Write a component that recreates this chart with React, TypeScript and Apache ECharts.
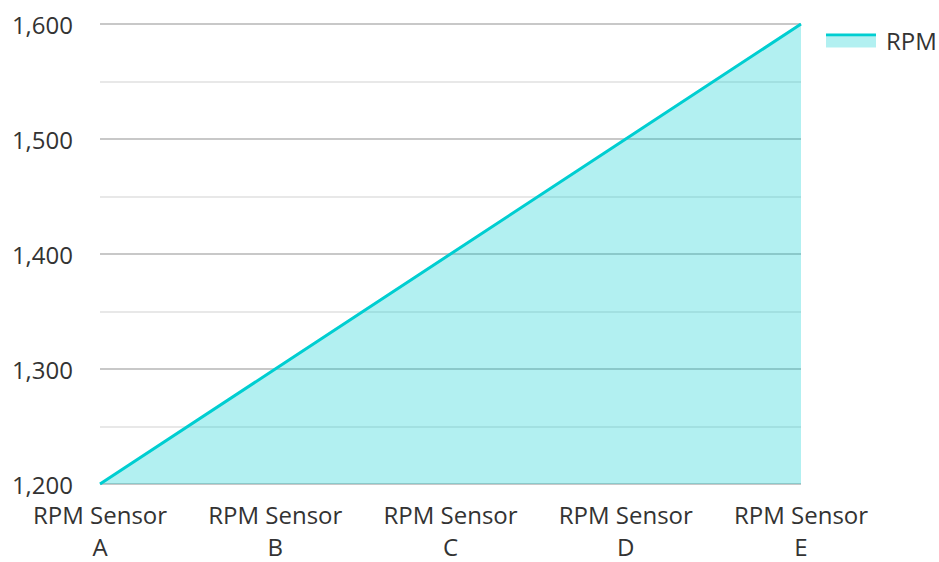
import React, { useEffect, useRef } from "react";
import * as echarts from "echarts";

const categories = ["RPM Sensor A", "RPM Sensor B", "RPM Sensor C", "RPM Sensor D", "RPM Sensor E"];
const rpmValues = [1200, 1300, 1400, 1500, 1600];
const seriesName = "RPM";

export default function App() {
  const ref = useRef<HTMLDivElement>(null);
  useEffect(() => {
    if (!ref.current) return;
    const chart = echarts.init(ref.current, undefined, { renderer: "svg" });
    const font = "'Open Sans', sans-serif";
    const lineColor = "#00CED1";
    chart.setOption({
      animation: false,
      grid: { left: 100, right: 138, top: 24, bottom: 72, containLabel: false },
      legend: {
        data: [{ name: seriesName, icon: "rect", itemStyle: { color: "rgba(0,0,0,0)", borderWidth: 0 } }],
        left: 826,
        top: 23,
        itemWidth: 50,
        itemHeight: 14,
        itemGap: 10,
        textStyle: { fontFamily: font, fontSize: 24, color: "#333", lineHeight: 24 },
        selectedMode: false,
      },
      graphic: [
        {
          type: "rect",
          shape: { x: 826, y: 37, width: 50, height: 10.5 },
          style: { fill: "rgba(0,206,209,0.3)" },
        },
        {
          type: "line",
          shape: { x1: 826, y1: 35, x2: 876, y2: 35 },
          style: { stroke: lineColor, lineWidth: 3 },
        },
      ],
      xAxis: {
        type: "category",
        data: categories,
        boundaryGap: false,
        axisLine: { show: false },
        axisTick: { show: false },
        axisLabel: {
          fontFamily: font,
          fontSize: 24,
          color: "#333",
          margin: 14,
          lineHeight: 32,
          formatter: (v: string) => v.replace(/ (\S+)$/, "\n$1"),
        },
      },
      yAxis: {
        type: "value",
        min: 1200,
        max: 1600,
        interval: 100,
        axisLine: { show: false },
        axisTick: { show: false },
        axisLabel: {
          fontFamily: font,
          fontSize: 24,
          color: "#333",
          margin: 27,
          formatter: (v: number) => v.toLocaleString("en-US"),
        },
        splitLine: { show: true, lineStyle: { color: "#c8c8c8", width: 2 } },
        minorTick: { show: false, splitNumber: 2 },
        minorSplitLine: { show: true, lineStyle: { color: "#e8e8e8", width: 2 } },
      },
      series: [
        {
          name: seriesName,
          type: "line",
          data: rpmValues,
          showSymbol: false,
          lineStyle: { color: lineColor, width: 3 },
          itemStyle: { color: lineColor },
          areaStyle: { color: lineColor, opacity: 0.3, origin: "start" },
        },
      ],
    });
    return () => chart.dispose();
  }, []);
  return <div ref={ref} style={{ width: 939, height: 562, position: "absolute", left: 0, top: 0 }} />;
}
